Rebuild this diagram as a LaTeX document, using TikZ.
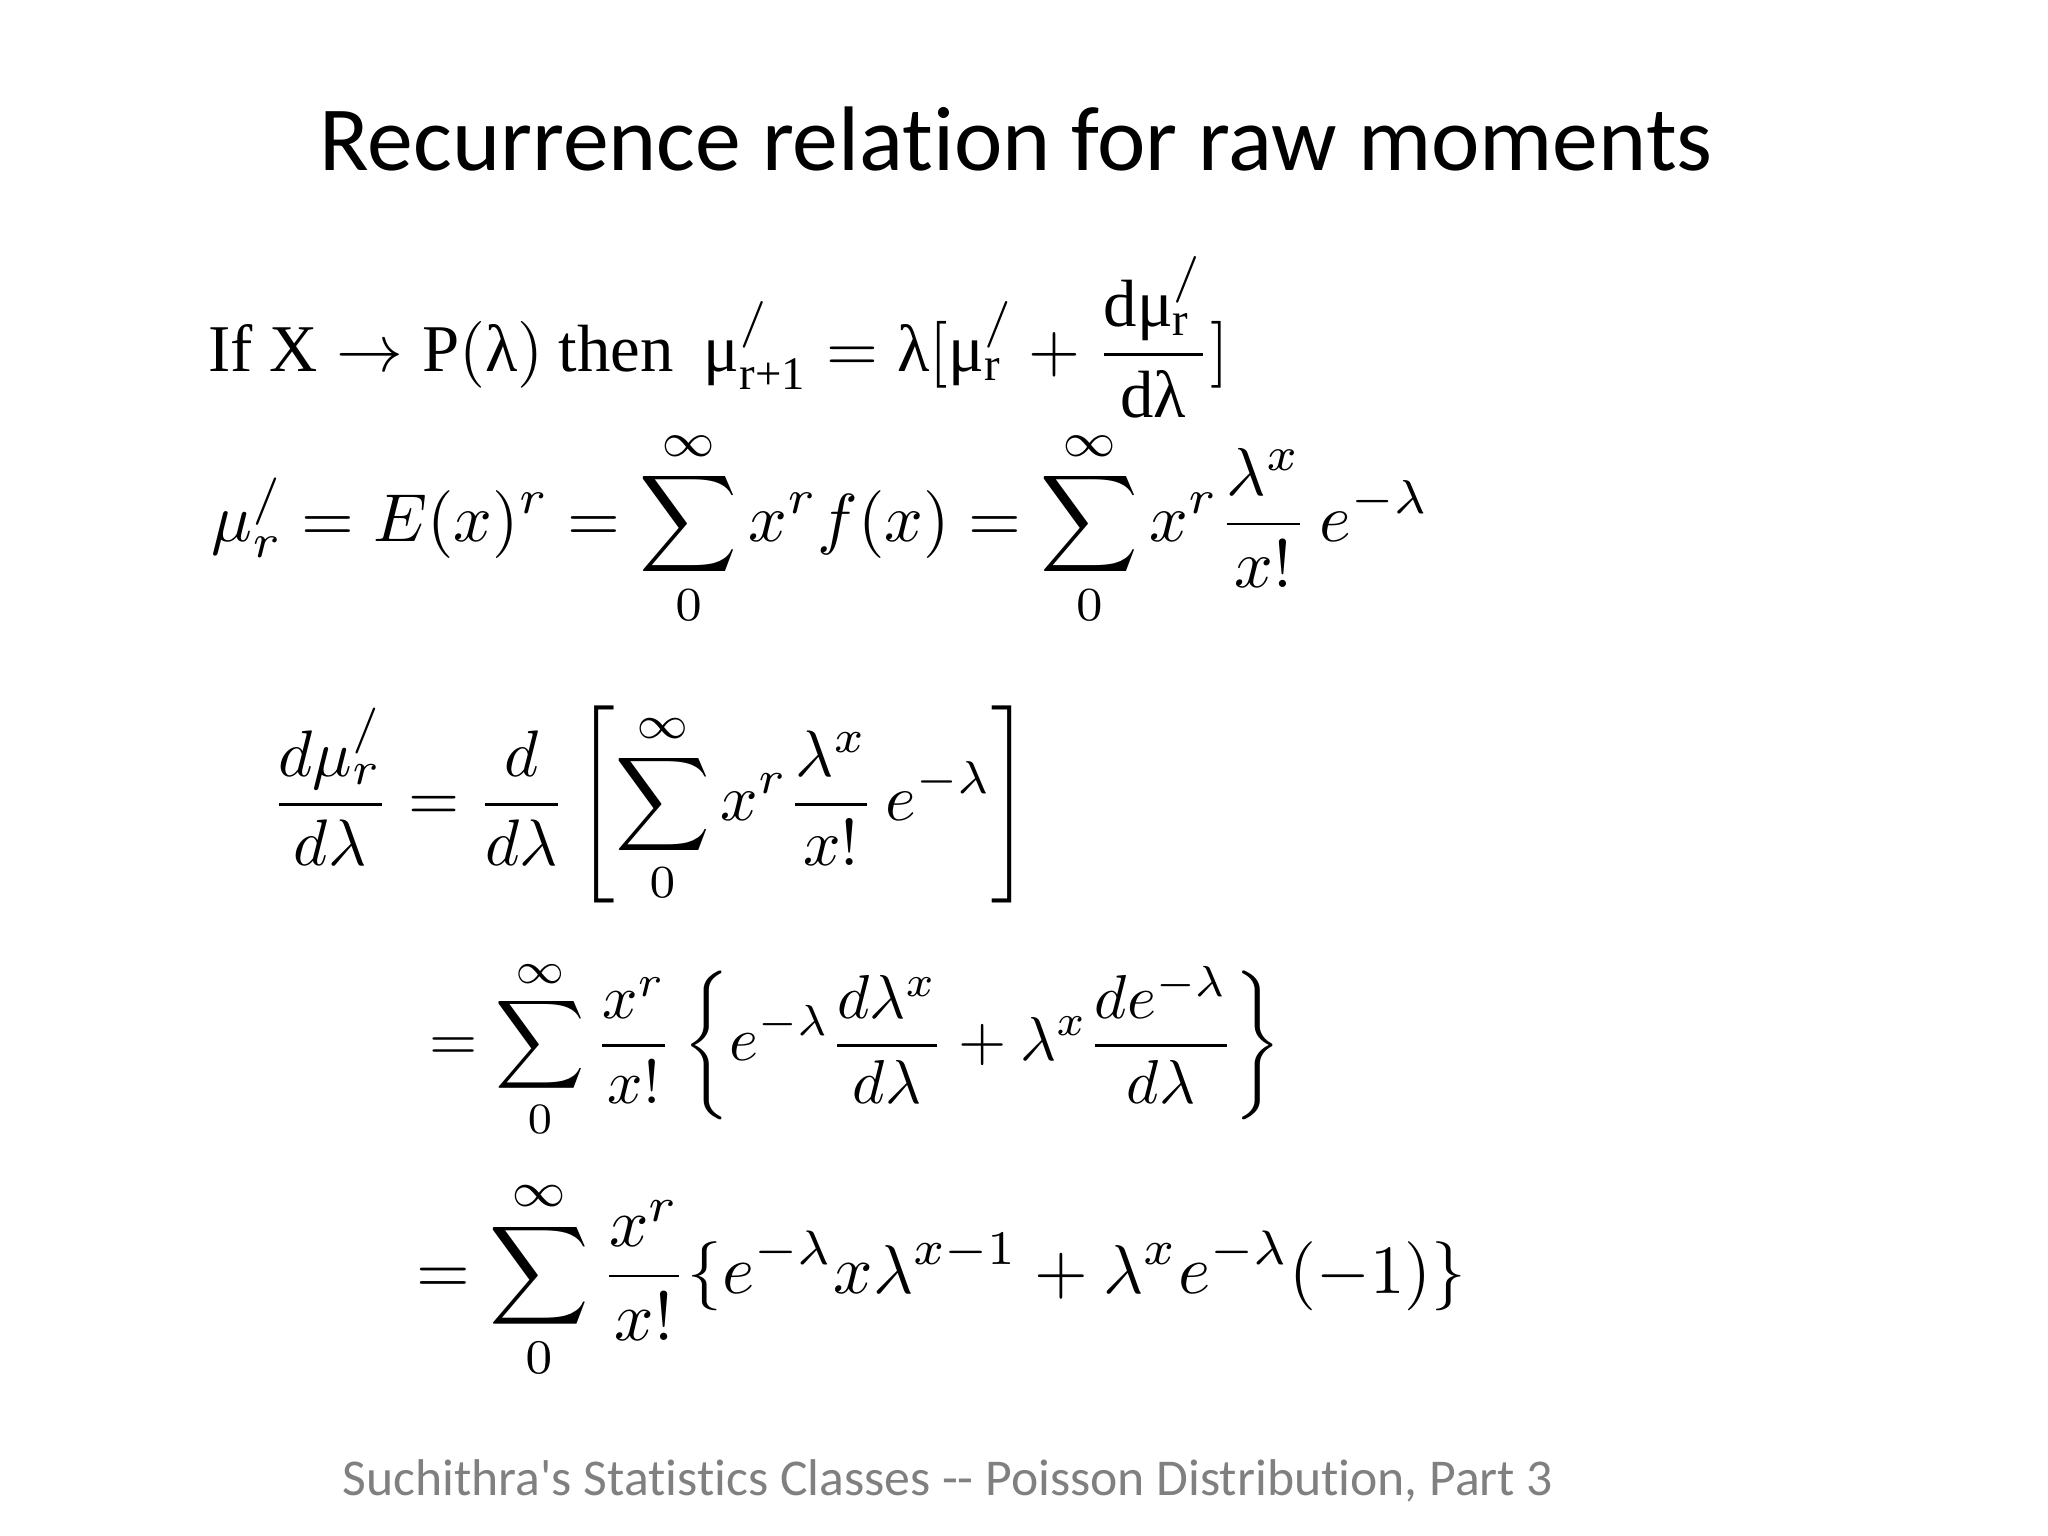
\documentclass[tikz,border=0pt]{standalone}
\usepackage{amsmath}
\usepackage{graphicx}
\usepackage{fontspec}
\setmainfont{Carlito}
\newfontfamily\plain{Carlito}[Ligatures=NoCommon]
\newfontfamily\tms{Liberation Serif}
\newcommand{\ul}{\text{\tms λ}}
\newcommand{\um}{\text{\tms μ}}
\newcommand{\ur}{\text{\tms r}}
\begin{document}
\begin{tikzpicture}[x=0.01cm,y=-0.01cm,
  eq/.style={anchor=west,inner sep=0pt}]
\useasboundingbox (0,0) rectangle (2048,1536);
\fill[white] (0,0) rectangle (2048,1536);
\node[inner sep=0pt] (title) at (1016,139) {\resizebox{13.92cm}{!}{\plain Recurrence relation for raw moments}};
\node[eq] (l1) at (208,337) {\resizebox{10.2cm}{!}{$\text{\tms If X} \rightarrow \text{\tms P}(\ul)\ \text{\tms then}\ \ \um^{/}_{\text{\tms r+1}} = \ul[\um^{/}_{\ur} + \dfrac{\text{\tms d}\um^{/}_{\ur}}{\text{\tms d}\ul}]$}};
\node[eq] (l2) at (211,528) {\resizebox{12.17cm}{!}{$\displaystyle \mu^{/}_r = E(x)^r = \sum_{0}^{\infty} x^r f(x) = \sum_{0}^{\infty} x^r \frac{\lambda^x}{x!}\, e^{-\lambda}$}};
\node[eq] (l3) at (270,805) {\resizebox{7.59cm}{!}{$\displaystyle \frac{d\mu^{/}_r}{d\lambda} = \frac{d}{d\lambda}\left[\sum_{0}^{\infty} x^r \frac{\lambda^x}{x!}\, e^{-\lambda}\right]$}};
\node[eq] (l4) at (429,1049) {\resizebox{8.51cm}{!}{$\displaystyle = \sum_{0}^{\infty} \frac{x^r}{x!}\left\{e^{-\lambda}\frac{d\lambda^x}{d\lambda} + \lambda^x \frac{de^{-\lambda}}{d\lambda}\right\}$}};
\node[eq] (l5) at (416,1280) {\resizebox{10.49cm}{!}{$\displaystyle = \sum_{0}^{\infty} \frac{x^r}{x!}\{e^{-\lambda} x\lambda^{x-1} + \lambda^x e^{-\lambda}(-1)\}$}};
\node[inner sep=0pt,text=gray] (foot) at (948,1481) {\resizebox{12.1cm}{!}{\plain Suchithra's Statistics Classes -- Poisson Distribution, Part 3}};
\end{tikzpicture}
\end{document}
